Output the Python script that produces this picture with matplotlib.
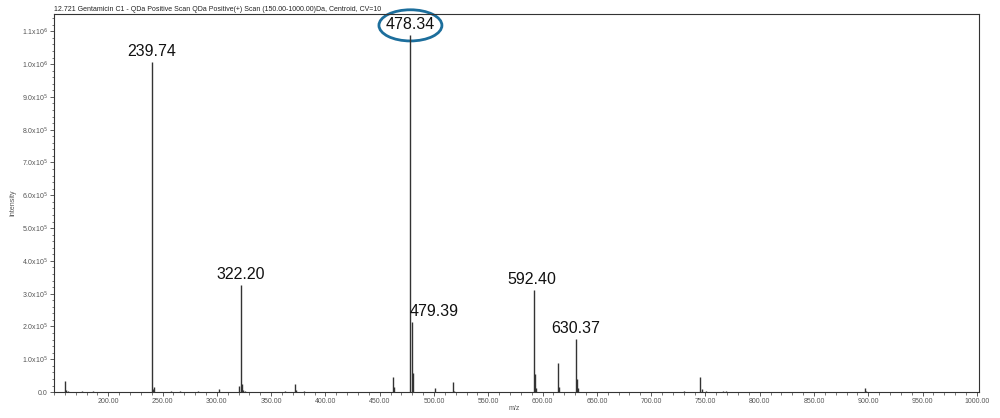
import matplotlib
matplotlib.use("Agg")
import matplotlib.pyplot as plt
from matplotlib.patches import Ellipse
from matplotlib.ticker import MultipleLocator

plt.rcParams['font.family'] = ['Liberation Sans', 'DejaVu Sans']

title = "12.721 Gentamicin C1 - QDa Positive Scan QDa Positive(+) Scan (150.00-1000.00)Da, Centroid, CV=10"

# Centroid peaks (m/z, intensity)
mz = [160.2, 161.5, 163.0, 176.0, 186.0, 240.0, 241.0, 242.4, 258.0, 266.0, 283.0, 302.0,
      320.0, 322.3, 323.4, 324.4, 325.5, 363.0, 372.3, 373.3, 380.0,
      462.3, 463.3, 478.3, 479.4, 480.4, 501.0, 517.3, 518.3,
      592.4, 593.4, 594.4, 614.4, 615.4, 630.4, 631.4, 632.4,
      730.0, 745.4, 746.4, 751.0, 766.0, 769.0, 897.0, 898.0]
intensity = [3.4e4, 6e3, 4e3, 3e3, 2e3, 1.006e6, 8e3, 1.4e4, 3e3, 3e3, 2e3, 8e3,
             1.8e4, 3.26e5, 2.4e4, 6e3, 2e3, 2e3, 2.4e4, 6e3, 2e3,
             4.6e4, 1.5e4, 1.088e6, 2.13e5, 5.8e4, 1.1e4, 3.0e4, 4e3,
             3.11e5, 5.4e4, 1.2e4, 8.8e4, 1.4e4, 1.62e5, 4.0e4, 1.2e4,
             3e3, 4.6e4, 1.0e4, 3e3, 4e3, 3e3, 1.2e4, 4e3]

label_mz = [239.74, 322.20, 478.34, 479.39, 592.40, 630.37]
label_int = [1.006e6, 3.26e5, 1.088e6, 2.13e5, 3.11e5, 1.62e5]
label_text = ["239.74", "322.20", "478.34", "479.39", "592.40", "630.37"]
label_dx = [0, 0, 0, 16, -2, 0]

yticks = [0, 1e5, 2e5, 3e5, 4e5, 5e5, 6e5, 7e5, 8e5, 9e5, 1e6, 1.1e6]
ytick_labels = ["0.0", "1.0x10$^5$", "2.0x10$^5$", "3.0x10$^5$", "4.0x10$^5$", "5.0x10$^5$",
                "6.0x10$^5$", "7.0x10$^5$", "8.0x10$^5$", "9.0x10$^5$", "1.0x10$^6$", "1.1x10$^6$"]
xticks = [200, 250, 300, 350, 400, 450, 500, 550, 600, 650, 700, 750, 800, 850, 900, 950, 1000]
xtick_labels = [f"{v:.2f}" for v in xticks]

fig = plt.figure(figsize=(10, 4.18), dpi=100)
ax = fig.add_axes([0.054, 0.062, 0.925, 0.904])

ax.vlines(mz, 0, intensity, colors='#333333', linewidth=1.0)

ax.set_xlim(150, 1002)
ax.set_ylim(0, 1.152e6)
ax.set_xticks(xticks)
ax.set_xticklabels(xtick_labels)
ax.set_yticks(yticks)
ax.set_yticklabels(ytick_labels)
ax.xaxis.set_minor_locator(MultipleLocator(10))
ax.yaxis.set_minor_locator(MultipleLocator(2e4))
ax.tick_params(axis='both', which='major', labelsize=5, length=3, width=0.6,
               colors='#444444', labelcolor='#555555', pad=1.5)
ax.tick_params(axis='both', which='minor', length=1.8, width=0.5, colors='#444444')
for s in ax.spines.values():
    s.set_linewidth(0.8)
    s.set_color('#333333')

ax.set_xlabel("m/z", fontsize=5, color='#555555', x=0.498, labelpad=0)
ax.set_ylabel("Intensity", fontsize=5, color='#555555', labelpad=4)
ax.set_title(title, fontsize=5, loc='left', pad=2, color='#222222')

for x, y, t, dx in zip(label_mz, label_int, label_text, label_dx):
    ax.annotate(t, (x, y), xytext=(dx, 2), textcoords='offset points',
                ha='center', va='bottom', fontsize=11.5, color='#111111')

# highlight ellipse around the base peak label
ell = Ellipse((478.3, 1.118e6), width=58, height=0.095e6, fill=False,
              edgecolor='#1c6e9c', linewidth=2.0, clip_on=False)
ax.add_patch(ell)

fig.savefig("out.png", dpi=100)
